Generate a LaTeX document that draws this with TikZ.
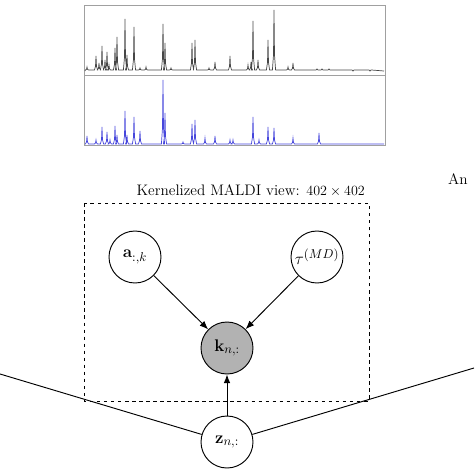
\documentclass[tikz,border=0pt]{standalone}
\usetikzlibrary{arrows.meta}
\definecolor{specgray}{RGB}{70,70,70}
\definecolor{specblue}{RGB}{70,70,220}
\definecolor{framegray}{RGB}{160,160,160}
\begin{document}
\begin{tikzpicture}[x=0.03cm, y=-0.03cm,
  var/.style={draw, thick, circle, minimum size=1.56cm, inner sep=0pt, font=\fontsize{15}{17}\selectfont},
  obs/.style={var, fill=gray!60},
  edge/.style={thick, -{Latex[length=2.6mm,width=2mm]}}]
\useasboundingbox (0, 0) rectangle (474, 474);
% spectra
\draw[framegray, thick] (84, 5) rectangle (385, 145); %frame
\draw[framegray, thick] (84, 75) -- (385, 75); %divider
\draw[specgray, line width=0.6pt] (85, 71) foreach \x/\y in {87/67, 96/56, 99/63, 102/46, 105/60, 107/52, 109/65, 115/48, 117/37, 125/19, 127/55, 134/27, 140/68, 146/67, 163/24, 165/43, 171/68, 192/43, 195/40, 209/68, 215/62, 230/56, 248/65, 251/62, 253/21, 258/60, 268/40, 274/10, 288/67, 293/63, 317/69, 322/69, 329/69, 353/71, 370/71} { -- ({\x-1.6}, 70) -- ({\x-0.5}, {70-0.25*(70-\y)}) -- (\x, \y) -- ({\x+0.5}, {70-0.25*(70-\y)}) -- ({\x+1.6}, 70) } -- (384, 71); %top spectrum
\draw[specblue, line width=0.6pt] (85, 144) foreach \x/\y in {87/136, 96/140, 102/127, 107/132, 110/140, 115/126, 117/135, 125/111, 127/135, 134/117, 140/131, 163/80, 165/113, 183/142, 192/124, 195/120, 205/138, 215/136, 230/140, 233/140, 253/117, 259/140, 268/127, 274/128, 293/138, 319/133} { -- ({\x-1.6}, 144) -- ({\x-0.5}, {144-0.25*(144-\y)}) -- (\x, \y) -- ({\x+0.5}, {144-0.25*(144-\y)}) -- ({\x+1.6}, 144) } -- (384, 144); %bottom spectrum
% graphical model
\coordinate (TL) at (84, 203);
\coordinate (BR) at (369, 401);
\draw[thick, dashed] (TL) rectangle (BR); %view box
\node[font=\fontsize{13}{15}\selectfont, anchor=base east] (title) at (369, 195) {Kernelized MALDI view: $402 \times 402$};
\node[font=\fontsize{13}{15}\selectfont, anchor=base west] (cut) at (444, 184) {An};
\node[var] (a) at (135, 257) {$\mathbf{a}_{:,k}$};
\node[var] (tau) at (317, 257) {$\tau^{(MD)}$};
\node[obs] (k) at (227, 348) {$\mathbf{k}_{n,:}$};
\node[var] (z) at (227, 442) {$\mathbf{z}_{n,:}$};
\coordinate (lft) at (0, 374);
\coordinate (rgt) at (474, 368);
\draw[edge] (a) -- (k); %a to k
\draw[edge] (tau) -- (k); %tau to k
\draw[edge] (z) -- (k); %z to k
\draw[thick] (lft) -- (z); %left branch
\draw[thick] (rgt) -- (z); %right branch
\end{tikzpicture}
\end{document}
